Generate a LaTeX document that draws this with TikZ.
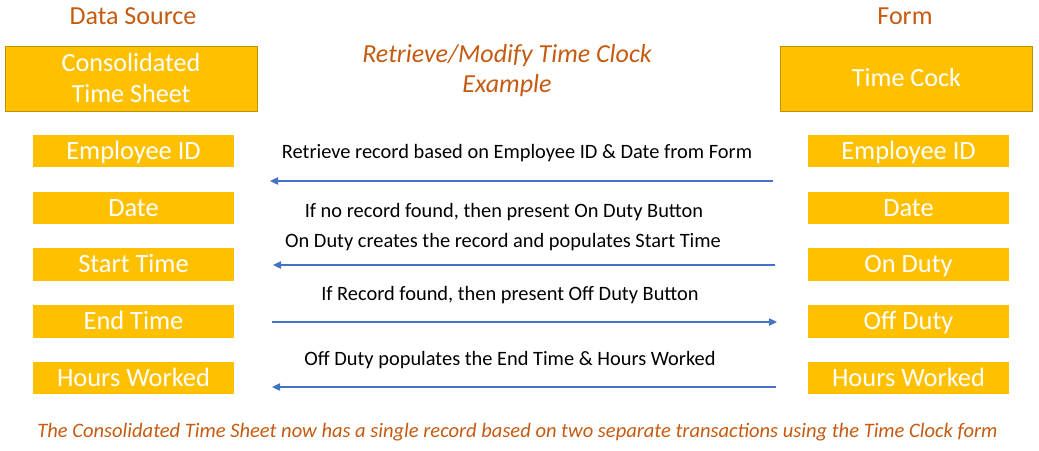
\documentclass[tikz,border=0pt]{standalone}
\usepackage{fontspec}
\setmainfont{Carlito}
\usepackage{tikz}
\usetikzlibrary{arrows.meta,positioning}
\definecolor{boxgold}{HTML}{FFC000}
\definecolor{boxedge}{HTML}{BF9000}
\definecolor{titleorange}{HTML}{C55A11}
\definecolor{flowblue}{HTML}{4472C4}

\tikzset{
    bigbox/.style={fill=boxgold, draw=boxedge, line width=0.75pt, text=white, align=center,
        minimum width=189pt, minimum height=48.75pt, inner sep=0pt,
        font=\fontsize{19.6}{23.25}\selectfont},
    fieldbox/.style={fill=boxgold, text=white, minimum width=150.75pt, minimum height=24.4pt,
        inner sep=0pt, text height=14pt, text depth=1.4pt,
        font=\fontsize{19.8}{23.25}\selectfont},
    heading/.style={text=titleorange, font=\fontsize{19.5}{22.5}\selectfont, align=center},
    note/.style={text=black, font=\fontsize{15.3}{17}\selectfont},
    flow/.style={draw=flowblue, line width=0.9pt, -{Triangle[length=6pt,width=5.5pt]}}
}

\begin{document}
\begin{tikzpicture}[x=0.75pt, y=-0.75pt]
    \useasboundingbox (0,0) rectangle (1039,450);
    % column headings
    \node[heading] (dsTitle) at (133,16) {Data Source};
    \node[heading] (formTitle) at (905,16) {Form};
    \node[heading, font=\fontsize{19.5}{22.5}\selectfont\itshape] (exTitle) at (507,71)
        {Retrieve/Modify Time Clock\\Example};
    % main boxes
    \node[bigbox] (ctsBox) at (131,78.5) {Consolidated\\Time Sheet};
    \node[bigbox, text height=14pt, text depth=1.4pt] (tcBox) at (906.5,78.5) {Time Cock};
    % data source fields
    \node[fieldbox] (lEmp) at (133.5,151) {Employee ID};
    \node[fieldbox] (lDate) at (133.5,208) {Date};
    \node[fieldbox] (lStart) at (133.5,264.5) {Start Time};
    \node[fieldbox] (lEnd) at (133.5,321.5) {End Time};
    \node[fieldbox] (lHours) at (133.5,378) {Hours Worked};
    % form fields
    \node[fieldbox] (rEmp) at (908.5,151) {Employee ID};
    \node[fieldbox] (rDate) at (908.5,208) {Date};
    \node[fieldbox] (rOn) at (908.5,264.5) {On Duty};
    \node[fieldbox] (rOff) at (908.5,321.5) {Off Duty};
    \node[fieldbox] (rHours) at (908.5,378) {Hours Worked};
    % descriptions
    \node[note] (n1) at (517,153) {Retrieve record based on Employee ID \& Date from Form};
    \node[note] (n2) at (504,212) {If no record found, then present On Duty Button};
    \node[note] (n3) at (503,242) {On Duty creates the record and populates Start Time};
    \node[note] (n4) at (510,295) {If Record found, then present Off Duty Button};
    \node[note] (n5) at (510,360) {Off Duty populates the End Time \& Hours Worked};
    % arrow ends
    \coordinate (a1s) at (773,181);
    \coordinate (a1e) at (270,181);
    \coordinate (a2s) at (775,265);
    \coordinate (a2e) at (273,265);
    \coordinate (a3s) at (272,322);
    \coordinate (a3e) at (777,322);
    \coordinate (a4s) at (776,387);
    \coordinate (a4e) at (272,387);
    \draw[flow] (a1s) -- (a1e);
    \draw[flow] (a2s) -- (a2e);
    \draw[flow] (a3s) -- (a3e);
    \draw[flow] (a4s) -- (a4e);
    % footer
    \node[text=titleorange, font=\fontsize{15.4}{18}\selectfont\itshape] (footer) at (517.5,432)
        {The Consolidated Time Sheet now has a single record based on two separate transactions using the Time Clock form};
\end{tikzpicture}
\end{document}
